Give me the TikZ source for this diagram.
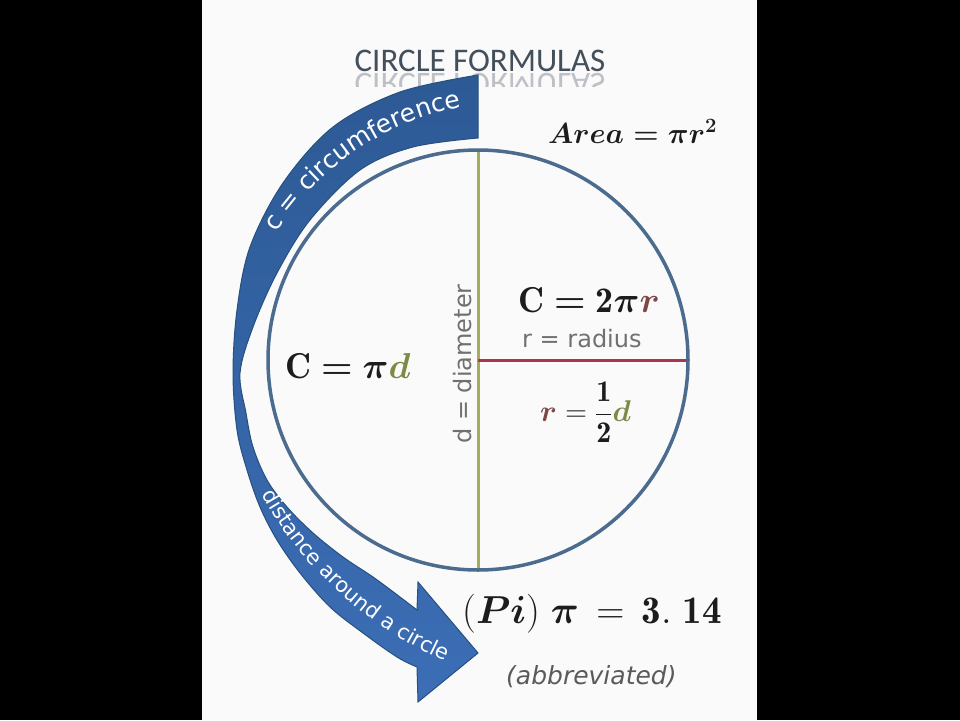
\RequirePackage{fix-cm}
\documentclass[tikz,border=0pt]{standalone}
\usepackage{amsmath}
\usepackage{fontspec}
\newfontfamily\dejavu{DejaVu Sans}
\newfontfamily\carlito{Carlito}
\definecolor{panel}{HTML}{FAFAFA}
\definecolor{arrowtop}{HTML}{2D5A95}
\definecolor{arrowbot}{HTML}{3C6EB6}
\definecolor{arrowline}{HTML}{28507F}
\definecolor{circcol}{HTML}{4B6B8F}
\definecolor{diamcol}{HTML}{A5AD5A}
\definecolor{radcol}{HTML}{A8384A}
\definecolor{rcol}{HTML}{7E4646}
\definecolor{dcol}{HTML}{7B8B45}
\definecolor{titlecol}{HTML}{434F5A}
\definecolor{ink}{HTML}{1C1C1C}
\definecolor{graytext}{HTML}{707070}
\newcommand\topfont{\dejavu\fontsize{25}{25}\selectfont}
\newcommand\botfont{\dejavu\fontsize{21}{21}\selectfont}
\newdimen\arcpos
\newbox\arcbox
\def\spacemark{_}
% #1 cx, #2 cy, #3 radius, #4 start angle, #5 direction, #6 font, #7 characters
\newcommand\placearc[7]{%
  \global\arcpos=0pt
  \foreach \ch in {#7}{%
    \pgfinterruptpicture
      \ifx\ch\spacemark \global\setbox\arcbox=\hbox{#6\ }\else \global\setbox\arcbox=\hbox{#6\ch}\fi
    \endpgfinterruptpicture
    \edef\chw{\the\wd\arcbox}\edef\cur{\the\arcpos}%
    \pgfmathsetmacro\midpos{\cur+0.5*\chw}%
    \pgfmathsetmacro\ang{#4+#5*deg(\midpos/#3)}%
    \pgfmathsetmacro\rot{(#5>0 ? 270 : 90)-\ang}%
    \ifx\ch\spacemark\else
      \node[bandchar, font=#6, rotate=\rot] at ({#1+#3*cos(\ang)},{#2+#3*sin(\ang)}) {\ch};%
    \fi
    \global\advance\arcpos by \chw\relax
  }%
}
\tikzset{
  formula/.style={inner sep=0pt, text=ink},
  graylabel/.style={inner sep=0pt, text=graytext, font=\dejavu\fontsize{24}{28}\selectfont},
  bandchar/.style={anchor=base, inner sep=0pt, text=white},
}
\begin{document}
\begin{tikzpicture}[x=1pt,y=-1pt]
\useasboundingbox (0,0) rectangle (960,720);
\fill[black] (0,0) rectangle (960,720);
\fill[panel] (202,0) rectangle (757,720);

% title and its reflection
\node[anchor=base, inner sep=0pt, text=titlecol, font=\carlito\fontsize{33}{36}\selectfont] (title) at (480,71) {CIRCLE FORMULAS};
\begin{scope}
  \clip (330,71) rectangle (630,86);
  \node[anchor=base, inner sep=0pt, yscale=-1, text=titlecol!35, font=\carlito\fontsize{33}{36}\selectfont] (reflect) at (480,73) {CIRCLE FORMULAS};
\end{scope}

% curved arrow band
\shade[top color=arrowtop, bottom color=arrowbot, draw=arrowline, line width=1pt]
  (478,75) -- plot[smooth, tension=0.55] coordinates {(478,75) (400,92) (333,127) (283,183) (250,247) (237,310) (233,373) (237,430) (247,470) (260,507) (277,540) (300,573) (330,607) (363,633) (397,657) (417,667)}
  -- (418,702) -- (478,653) -- (418,582) -- (417,610)
  -- plot[smooth, tension=0.55] coordinates {(417,610) (400,597) (373,577) (343,557) (313,533) (287,507) (267,480) (253,447) (246,413) (240,373) (253,327) (277,273) (310,220) (360,170) (413,147) (478,138)}
  -- cycle;

\placearc{515}{385}{283}{212.5}{1}{\topfont}{c,_,=,_,c,i,r,c,u,m,f,e,r,e,n,c,e}
\placearc{599}{307}{386}{150.9}{-1}{\botfont}{d,i,s,t,a,n,c,e,_,a,r,o,u,n,d,_,a,_,c,i,r,c,l,e}

% circle, diameter, radius
\coordinate (O) at (478,360);
\coordinate (T) at (478,150);
\coordinate (B) at (478,570);
\coordinate (R) at (688,360);
\draw[diamcol, line width=3pt] (T) -- (B);
\draw[radcol, line width=3pt] (O) -- (R);
\draw[circcol, line width=3.5pt] (O) circle[radius=210];

% labels
\node[formula, anchor=base west, font=\fontsize{29}{33}\selectfont] (area) at (548,143) {$\boldsymbol{Area=\pi r^{2}}$};
\node[formula, anchor=base west, font=\fontsize{36}{40}\selectfont] (c2pr) at (518,312) {$\mathbf{C}\boldsymbol{=}\mathbf{2}\boldsymbol{\pi}{\color{rcol}\boldsymbol{r}}$};
\node[graylabel, anchor=base west] (radius) at (522,347) {r = radius};
\node[formula, anchor=west, font=\fontsize{30}{34}\selectfont] (rhalf) at (540,412) {${\color{rcol}\boldsymbol{r}}=\dfrac{\mathbf{1}}{\mathbf{2}}{\color{dcol}\boldsymbol{d}}$};
\node[formula, anchor=base west, font=\fontsize{36}{40}\selectfont] (cpd) at (285,378) {$\mathbf{C}\boldsymbol{=}\boldsymbol{\pi}{\color{dcol}\boldsymbol{d}}$};
\node[graylabel, rotate=90] (diam) at (463,364) {d = diameter};
\node[formula, anchor=base west, font=\fontsize{39}{43}\selectfont] (pi) at (462,623) {$(\boldsymbol{Pi})\;\boldsymbol{\pi}\,=\,\mathbf{3.\;14}$};
\node[inner sep=0pt, anchor=base west, text=graytext!80!black, font=\dejavu\itshape\fontsize{25}{30}\selectfont] (abbr) at (506,684) {(abbreviated)};
\end{tikzpicture}
\end{document}
